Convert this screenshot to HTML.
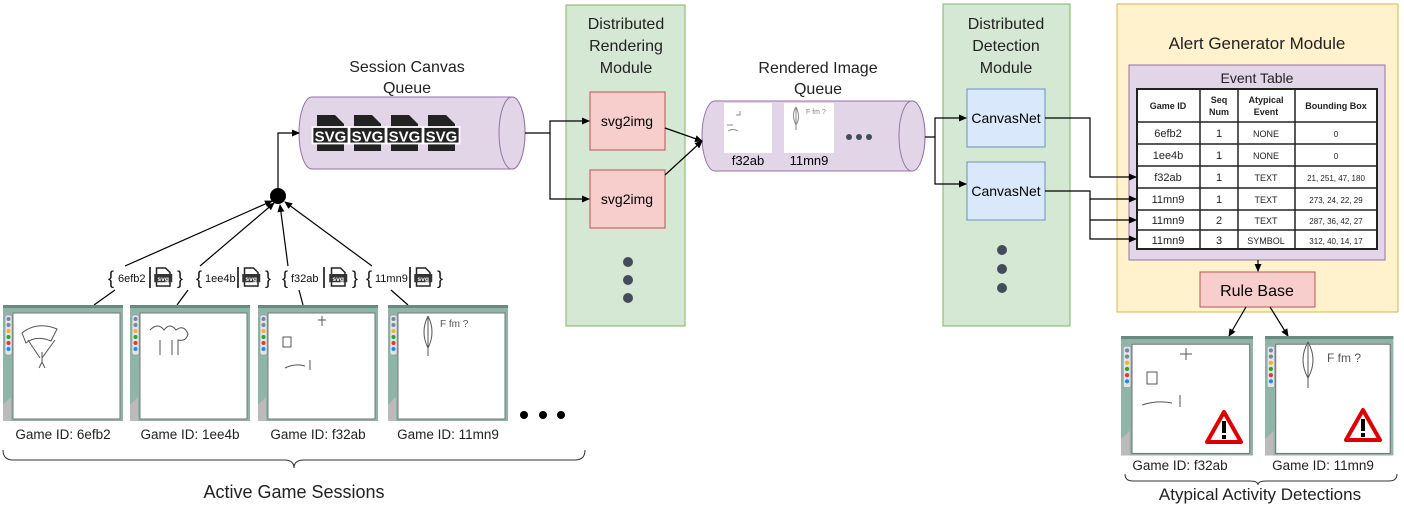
<!DOCTYPE html>
<html><head><meta charset="utf-8"><style>
body{margin:0;background:#fff;}
svg{display:block;font-family:"Liberation Sans",sans-serif;}
</style></head><body>
<svg width="1404" height="505" viewBox="0 0 1404 505" xmlns="http://www.w3.org/2000/svg">
<defs>
<marker id="ar" markerWidth="8" markerHeight="8" refX="7" refY="4" orient="auto" markerUnits="userSpaceOnUse"><path d="M0,0.5 L8,4 L0,7.5 Z" fill="#000"/></marker>
<g id="thumb">
<rect x="0" y="0" width="120" height="116" fill="#8fb5a8"/>
<rect x="0" y="0" width="120" height="3" fill="#6a8a80"/>
<rect x="10" y="8" width="107" height="106" fill="#fff" stroke="#777" stroke-width="1"/>
<rect x="2" y="10" width="7" height="40" rx="2" fill="#dfe6ea" stroke="#888" stroke-width="0.5"/>
<circle cx="5.5" cy="14" r="2" fill="#789"/><circle cx="5.5" cy="20" r="2" fill="#789"/>
<circle cx="5.5" cy="26" r="2" fill="#f0b030"/><circle cx="5.5" cy="32" r="2" fill="#2a2"/>
<circle cx="5.5" cy="38" r="2" fill="#e33"/><circle cx="5.5" cy="44" r="2" fill="#28e"/>
<path d="M0,100 L8,92 L8,116 L0,116Z" fill="#bbb"/>
</g>
<g id="svgicon">
<path d="M2,0 H14 L20,6 V24 H2 Z" fill="#222"/>
<rect x="-1" y="8" width="24" height="11" fill="#222" stroke="#fff" stroke-width="1.2"/>
<text x="11" y="17.5" font-size="10" font-weight="bold" fill="#fff" text-anchor="middle">SVG</text>
</g>
<g id="svgsmall">
<path d="M2,0 H14 L20,6 V24 H2 Z" fill="#fff" stroke="#222" stroke-width="2"/>
<rect x="-1" y="8" width="24" height="11" fill="#333"/>
<text x="11" y="17" font-size="9" font-weight="bold" fill="#fff" text-anchor="middle">svg</text>
</g>
<g id="warn"><path d="M17,0 L34,30 L0,30Z" fill="#fff" stroke="#d00" stroke-width="4" stroke-linejoin="round"/><rect x="15" y="9" width="4" height="12" fill="#000"/><rect x="15" y="23" width="4" height="4" fill="#000"/></g>
</defs>

<!-- Modules -->
<rect x="566" y="5" width="119" height="321" fill="#d5e8d4" stroke="#82b366"/>
<text font-size="16" text-anchor="middle" fill="#222"><tspan x="626" y="29">Distributed</tspan><tspan x="626" y="51">Rendering</tspan><tspan x="626" y="73">Module</tspan></text>
<rect x="590" y="92" width="75" height="58" fill="#f8cecc" stroke="#b85450"/>
<text x="627" y="126" font-size="14" text-anchor="middle">svg2img</text>
<rect x="590" y="170" width="75" height="58" fill="#f8cecc" stroke="#b85450"/>
<text x="627" y="204" font-size="14" text-anchor="middle">svg2img</text>
<circle cx="628" cy="262" r="5" fill="#444c5c"/><circle cx="628" cy="280" r="5" fill="#444c5c"/><circle cx="628" cy="298" r="5" fill="#444c5c"/>

<rect x="943" y="4" width="127" height="322" fill="#d5e8d4" stroke="#82b366"/>
<text font-size="16" text-anchor="middle" fill="#222"><tspan x="1006" y="29">Distributed</tspan><tspan x="1006" y="51">Detection</tspan><tspan x="1006" y="73">Module</tspan></text>
<rect x="967" y="89" width="78" height="58" fill="#dae8fc" stroke="#6c8ebf"/>
<text x="1006" y="123" font-size="14" text-anchor="middle">CanvasNet</text>
<rect x="967" y="162" width="78" height="58" fill="#dae8fc" stroke="#6c8ebf"/>
<text x="1006" y="196" font-size="14" text-anchor="middle">CanvasNet</text>
<circle cx="1002" cy="250" r="5" fill="#444c5c"/><circle cx="1002" cy="269" r="5" fill="#444c5c"/><circle cx="1002" cy="288" r="5" fill="#444c5c"/>

<!-- Session queue -->
<text font-size="16" text-anchor="middle" fill="#222"><tspan x="407" y="72">Session Canvas</tspan><tspan x="407" y="93">Queue</tspan></text>
<path d="M312,97 H512 A13,36 0 0 1 512,169 H312 A13,36 0 0 1 312,97Z" fill="#e1d5e7" stroke="#9673a6"/>
<ellipse cx="512" cy="133" rx="13" ry="36" fill="#e1d5e7" stroke="#9673a6"/>
<use href="#svgicon" transform="translate(314,115) scale(1.5)"/><use href="#svgicon" transform="translate(351,115) scale(1.5)"/><use href="#svgicon" transform="translate(388,115) scale(1.5)"/><use href="#svgicon" transform="translate(425,115) scale(1.5)"/>

<!-- Rendered queue -->
<text font-size="16" text-anchor="middle" fill="#222"><tspan x="818" y="73">Rendered Image</tspan><tspan x="818" y="94">Queue</tspan></text>
<path d="M715,101 H912 A13,35 0 0 1 912,171 H715 A13,35 0 0 1 715,101Z" fill="#e1d5e7" stroke="#9673a6"/>
<ellipse cx="912" cy="136" rx="13" ry="35" fill="#e1d5e7" stroke="#9673a6"/>
<rect x="724" y="103" width="48" height="50" fill="#fff"/>
<rect x="784" y="103" width="50" height="50" fill="#fff"/>
<path d="M736,115 h4 v-4 M727,125 h6 M728,131 q5,-3 10,0" stroke="#888" fill="none"/>
<path d="M796,107 q-5,8 0,18 q5,-8 0,-18 M796,108 v22" stroke="#888" fill="none"/>
<text x="806" y="114" font-size="7" fill="#888">F fm ?</text>
<text x="748" y="165" font-size="13" text-anchor="middle">f32ab</text>
<text x="809" y="165" font-size="13" text-anchor="middle">11mn9</text>
<circle cx="849" cy="137" r="3" fill="#444c5c"/><circle cx="859" cy="137" r="3" fill="#444c5c"/><circle cx="869" cy="137" r="3" fill="#444c5c"/>

<!-- Alert generator -->
<rect x="1117" y="4" width="281" height="308" fill="#fff2cc" stroke="#d6b656"/>
<text x="1257" y="49" font-size="17" text-anchor="middle" fill="#222">Alert Generator Module</text>
<rect x="1129" y="65" width="256" height="195" fill="#e1d5e7" stroke="#9673a6"/>
<text x="1257" y="83" font-size="14" text-anchor="middle" fill="#222">Event Table</text>
<rect x="1137" y="89" width="240" height="160" fill="#fff" stroke="#222" stroke-width="2"/>
<g stroke="#222" stroke-width="1.5">
<line x1="1200" y1="89" x2="1200" y2="249"/><line x1="1238" y1="89" x2="1238" y2="249"/><line x1="1295" y1="89" x2="1295" y2="249"/>
<line x1="1137" y1="122" x2="1377" y2="122"/><line x1="1137" y1="144" x2="1377" y2="144"/><line x1="1137" y1="166" x2="1377" y2="166"/>
<line x1="1137" y1="188" x2="1377" y2="188"/><line x1="1137" y1="210" x2="1377" y2="210"/><line x1="1137" y1="230" x2="1377" y2="230"/>
</g>
<g font-size="9" font-weight="bold" text-anchor="middle" fill="#222">
<text x="1168" y="109">Game ID</text>
<text x="1219" y="103">Seq</text><text x="1219" y="115">Num</text>
<text x="1266" y="103">Atypical</text><text x="1266" y="115">Event</text>
<text x="1336" y="109">Bounding Box</text>
</g>
<g font-size="11" text-anchor="middle" fill="#222">
<text x="1168" y="137">6efb2</text><text x="1219" y="137">1</text><text x="1266" y="137" font-size="9">NONE</text><text x="1336" y="137" font-size="8">0</text>
<text x="1168" y="159">1ee4b</text><text x="1219" y="159">1</text><text x="1266" y="159" font-size="9">NONE</text><text x="1336" y="159" font-size="8">0</text>
<text x="1168" y="181">f32ab</text><text x="1219" y="181">1</text><text x="1266" y="181" font-size="9">TEXT</text><text x="1336" y="181" font-size="8">21, 251, 47, 180</text>
<text x="1168" y="203">11mn9</text><text x="1219" y="203">1</text><text x="1266" y="203" font-size="9">TEXT</text><text x="1336" y="203" font-size="8">273, 24, 22, 29</text>
<text x="1168" y="224">11mn9</text><text x="1219" y="224">2</text><text x="1266" y="224" font-size="9">TEXT</text><text x="1336" y="224" font-size="8">287, 36, 42, 27</text>
<text x="1168" y="244">11mn9</text><text x="1219" y="244">3</text><text x="1266" y="244" font-size="9">SYMBOL</text><text x="1336" y="244" font-size="8">312, 40, 14, 17</text>
</g>
<rect x="1200" y="272" width="115" height="35" fill="#f8cecc" stroke="#b85450"/>
<text x="1257" y="296" font-size="16" text-anchor="middle">Rule Base</text>

<!-- Connectors -->
<g stroke="#000" stroke-width="1.2" fill="none">
<path d="M525,133 H550 V121 H589" marker-end="url(#ar)"/>
<path d="M550,133 V199 H589" marker-end="url(#ar)"/>
<path d="M665,128 L702,141" marker-end="url(#ar)"/>
<path d="M665,175 L702,141" marker-end="url(#ar)"/>
<path d="M925,137 H935 V118 H966" marker-end="url(#ar)"/>
<path d="M935,137 V184 H966" marker-end="url(#ar)"/>
<path d="M1045,118 H1090 V177 H1136" marker-end="url(#ar)"/>
<path d="M1045,191 H1090 V199 H1136" marker-end="url(#ar)"/>
<path d="M1090,199 V239 H1136" marker-end="url(#ar)"/>
<path d="M1090,220 H1136" marker-end="url(#ar)"/>
<path d="M1258,260 V271" marker-end="url(#ar)"/>
<path d="M1246,307 L1229,336" marker-end="url(#ar)"/>
<path d="M1270,307 L1288,336" marker-end="url(#ar)"/>
<path d="M278,196 V133 H299" marker-end="url(#ar)"/>
<path d="M125,266 L272,201" marker-end="url(#ar)"/>
<path d="M200,266 L274,203" marker-end="url(#ar)"/>
<path d="M288,266 L280,205" marker-end="url(#ar)"/>
<path d="M372,266 L285,202" marker-end="url(#ar)"/>
<path d="M94,305 L115,290 M177,305 L188,290 M303,305 L299,290 M408,305 L391,290"/>
</g>
<circle cx="278" cy="196" r="8" fill="#000"/>

<!-- id labels -->
<g font-size="11" fill="#111">
<text x="108" y="284" font-size="18">{</text><text x="118" y="282">6efb2</text><line x1="150" y1="267" x2="150" y2="288" stroke="#000" stroke-width="1.5"/><use href="#svgsmall" transform="translate(155,268) scale(0.75)"/><text x="177" y="284" font-size="18">}</text>
<text x="196" y="284" font-size="18">{</text><text x="205" y="282">1ee4b</text><line x1="238" y1="267" x2="238" y2="288" stroke="#000" stroke-width="1.5"/><use href="#svgsmall" transform="translate(243,268) scale(0.75)"/><text x="265" y="284" font-size="18">}</text>
<text x="282" y="284" font-size="18">{</text><text x="291" y="282">f32ab</text><line x1="324" y1="267" x2="324" y2="288" stroke="#000" stroke-width="1.5"/><use href="#svgsmall" transform="translate(330,268) scale(0.75)"/><text x="352" y="284" font-size="18">}</text>
<text x="366" y="284" font-size="18">{</text><text x="375" y="282">11mn9</text><line x1="410" y1="267" x2="410" y2="288" stroke="#000" stroke-width="1.5"/><use href="#svgsmall" transform="translate(415,268) scale(0.75)"/><text x="437" y="284" font-size="18">}</text>
</g>

<!-- Left thumbnails -->
<use href="#thumb" x="3" y="305"/><use href="#thumb" x="130" y="305"/><use href="#thumb" x="258" y="305"/><use href="#thumb" x="388" y="305"/>
<g stroke="#555" fill="none" stroke-width="1">
<path d="M22,333 q15,-12 35,-4 l-6,12 q-15,-6 -25,2z M28,340 l12,18 M55,340 l-13,18 M42,352 v10 l-3,6 M42,362 l3,6"/>
<path d="M150,330 q8,-8 14,0 q6,-8 12,0 q8,-6 12,4 q-2,8 -10,6 v15 M160,340 v15 M172,340 v15"/>
<path d="M318,320 h8 M322,316 v10 M283,337 h8 v10 h-8z M285,368 q10,-5 20,-2 M310,360 v10"/>
<path d="M428,316 q-8,16 0,32 q8,-16 0,-32 M428,318 v38"/>
</g>
<text x="440" y="327" font-size="10" fill="#555">F fm ?</text>
<g font-size="13.5" text-anchor="middle" fill="#222">
<text x="63" y="439">Game ID: 6efb2</text><text x="190" y="439">Game ID: 1ee4b</text><text x="318" y="439">Game ID: f32ab</text><text x="448" y="439">Game ID: 11mn9</text>
</g>
<circle cx="524" cy="415" r="4" fill="#000"/><circle cx="543" cy="415" r="4" fill="#000"/><circle cx="561" cy="415" r="4" fill="#000"/>
<path d="M3,450 q0,10 10,10 H284 q10,0 10,8 q0,-8 10,-8 H575 q10,0 10,-10" stroke="#333" fill="none"/>
<text x="294" y="498" font-size="18" text-anchor="middle" fill="#222">Active Game Sessions</text>

<!-- Right thumbnails -->
<use href="#thumb" transform="translate(1121,336) scale(1.1,1.03)"/>
<use href="#thumb" transform="translate(1265,336) scale(1.07,1.03)"/>
<use href="#warn" x="1207" y="412"/><use href="#warn" x="1346" y="410"/>
<g stroke="#555" fill="none">
<path d="M1180,354 h12 M1186,348 v12 M1147,372 h10 v12 h-10z M1142,405 q15,-5 30,-2 M1180,395 v12"/>
<path d="M1308,342 q-10,18 0,36 q10,-18 0,-36 M1308,345 v43"/>
</g>
<text x="1327" y="362" font-size="12" fill="#555">F fm ?</text>
<g font-size="13.5" text-anchor="middle" fill="#222"><text x="1180" y="470">Game ID: f32ab</text><text x="1323" y="470">Game ID: 11mn9</text></g>
<path d="M1125,474 q0,7 8,7 H1250 q8,0 8,4 q0,-4 8,-4 H1389 q8,0 8,-7" stroke="#333" fill="none"/>
<text x="1260" y="500" font-size="17" text-anchor="middle" fill="#222">Atypical Activity Detections</text>
</svg>
</body></html>
